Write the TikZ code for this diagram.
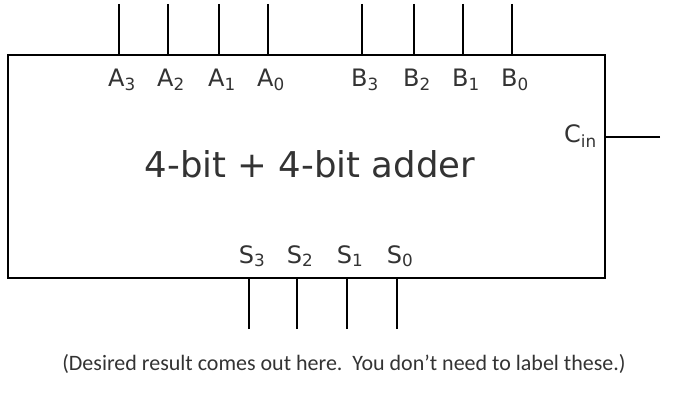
\documentclass[tikz,border=0pt]{standalone}
\usepackage{fontspec}
\setmainfont{DejaVu Sans}
\newfontfamily\capfont{Carlito}
\definecolor{txt}{HTML}{333333}
\begin{document}
\begin{tikzpicture}[x=1pt,y=-1pt,
  wire/.style={line width=1.8pt,black},
  pinlbl/.style={font=\fontsize{24}{26}\selectfont,text=txt,inner sep=0pt,anchor=base},
  ]
\useasboundingbox (0,0) rectangle (676,403);
\node[draw,line width=2.4pt,minimum width=597pt,minimum height=223pt,inner sep=0pt] (box) at (306.5,166.5) {};
% main title
\node[font=\fontsize{35.5}{38}\selectfont,text=txt,inner sep=0pt,anchor=base] (title) at (310,178) {4-bit + 4-bit adder};
% top pins
\foreach \n/\x in {a3/119,a2/168,a1/219,a0/268,b3/362,b2/414,b1/463,b0/512}{
  \coordinate (\n t) at (\x,4);
  \draw[wire] (\n t) -- (\n t |- box.north);
}
\node[pinlbl] (la3) at (122,87) {A\textsubscript{3}};
\node[pinlbl] (la2) at (171,87) {A\textsubscript{2}};
\node[pinlbl] (la1) at (222,87) {A\textsubscript{1}};
\node[pinlbl] (la0) at (271,87) {A\textsubscript{0}};
\node[pinlbl] (lb3) at (365,87) {B\textsubscript{3}};
\node[pinlbl] (lb2) at (417,87) {B\textsubscript{2}};
\node[pinlbl] (lb1) at (466,87) {B\textsubscript{1}};
\node[pinlbl] (lb0) at (515,87) {B\textsubscript{0}};
% carry in
\coordinate (cint) at (660,137);
\draw[wire] (cint) -- (cint -| box.east);
\node[pinlbl,anchor=base east] (lcin) at (597,143) {C\textsubscript{in}};
% sum outputs
\foreach \n/\x in {s3/249,s2/297,s1/347,s0/397}{
  \coordinate (\n b) at (\x,329);
  \draw[wire] (\n b) -- (\n b |- box.south);
}
\node[pinlbl] (ls3) at (252,263) {S\textsubscript{3}};
\node[pinlbl] (ls2) at (300,263) {S\textsubscript{2}};
\node[pinlbl] (ls1) at (350,263) {S\textsubscript{1}};
\node[pinlbl] (ls0) at (400,263) {S\textsubscript{0}};
% caption
\node[font=\capfont\fontsize{22}{24}\selectfont,text=txt,inner sep=0pt,anchor=base] (cap) at (344,370) {(Desired result comes out here.\ \ You don’t need to label these.)};
\end{tikzpicture}
\end{document}
